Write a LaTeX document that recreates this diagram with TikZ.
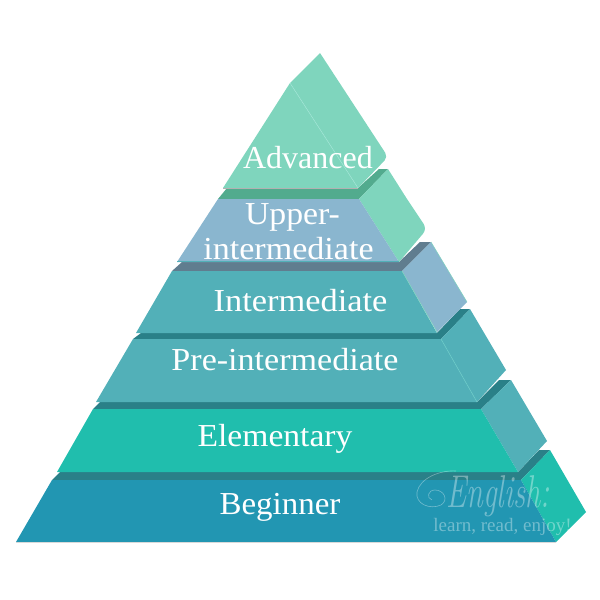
\documentclass[tikz,border=0pt]{standalone}
\usepackage{fontspec}
\setmainfont{Liberation Serif}
\newfontfamily\markfont{Latin Modern Roman}
\definecolor{cAdv}{HTML}{7FD5BD}
\definecolor{dAdv}{HTML}{52AB8E}
\definecolor{cUp}{HTML}{8AB6CF}
\definecolor{dUp}{HTML}{607D8F}
\definecolor{cInt}{HTML}{52B0B8}
\definecolor{dInt}{HTML}{2A8088}
\definecolor{cEle}{HTML}{20BEAD}
\definecolor{cBeg}{HTML}{2296B2}
\definecolor{seamA}{HTML}{A0E5D5}
\definecolor{seamB}{HTML}{6ACCC8}
\newcommand{\wide}[2]{\scalebox{#1}[1]{#2}}
\tikzset{
  label text/.style={text=white,font=\fontsize{32}{34}\selectfont,inner sep=0pt,anchor=base},
  seam/.style={line width=0.5pt},
  mark text/.style={text=white,opacity=0.36,inner sep=0pt,anchor=base},
  swirl/.style={draw=white,opacity=0.36,line width=0.6pt}
}
\begin{document}
\begin{tikzpicture}[x=1pt,y=-1pt]
\useasboundingbox (0,0) rectangle (600,600);
% dark shelves
\fill[dAdv] (227,188) -- (358,188) -- (379,169) -- (388,169) -- (359,199) -- (218,199) -- cycle;
\fill[dUp] (182,262) -- (399,262) -- (420,242) -- (431,242) -- (402,271) -- (172,271) -- cycle;
\fill[dInt] (141,333) -- (437,333) -- (460,309) -- (470,309) -- (441,339) -- (133,339) -- cycle;
\fill[dInt] (100,402) -- (477,402) -- (499,380) -- (511,380) -- (481,409) -- (93,409) -- cycle;
\fill[dInt] (60,472) -- (518,472) -- (539,450) -- (550,450) -- (521,480) -- (52,480) -- cycle;
% right faces
\fill[cAdv,rounded corners=5pt] (358,188) -- (388,157) -- (354,105) [sharp corners] -- (320,53) -- (290,83) -- cycle;
\fill[cAdv,rounded corners=6pt] (399,262) -- (427,229) -- (407,199) [sharp corners] -- (388,169) -- (359,199) -- cycle;
\fill[cUp] (431,242) -- (467,302) -- (437,332) -- (402,271) -- cycle;
\fill[cInt] (470,309) -- (506,370) -- (477,402) -- (441,339) -- cycle;
\fill[cInt] (511,380) -- (547,441) -- (518,472) -- (481,409) -- cycle;
\fill[cEle] (550,450) -- (586,512) -- (556,542) -- (521,480) -- cycle;
% front faces
\fill[cAdv] (290,83) -- (358,188) -- (223,188) -- cycle;
\fill[cUp] (218,199) -- (359,199) -- (399,262) -- (177,262) -- cycle;
\fill[cInt] (172,271) -- (402,271) -- (437,333) -- (136,333) -- cycle;
\fill[cInt] (133,339) -- (441,339) -- (477,402) -- (96,402) -- cycle;
\fill[cEle] (93,409) -- (481,409) -- (518,472) -- (57,472) -- cycle;
\fill[cBeg] (52,480) -- (521,480) -- (556,542) -- (16,542) -- cycle;
% seams
\draw[seam,seamA] (290,83) -- (358,188);
\draw[seam,cAdv] (402,271) -- (437,332);
\draw[seam,cAdv] (431,242) -- (467,302);
\draw[seam,seamB] (441,339) -- (477,402);
\draw[seam,cInt] (177,261.5) -- (399,261.5);
\draw[line width=0.6pt,black!30] (223,188) -- (358,188);
\draw[line width=0.6pt,black!15] (16,542) -- (556,542);
% labels
\node[label text] (adv) at (308,168) {Advanced};
\node[label text] (upa) at (292.5,224) {\wide{1.055}{Upper-}};
\node[label text] (upb) at (288.5,259) {\wide{1.065}{intermediate}};
\node[label text] (int) at (300.5,311) {\wide{1.075}{Intermediate}};
\node[label text] (pre) at (285,370) {\wide{1.065}{Pre-intermediate}};
\node[label text] (ele) at (275,446) {\wide{1.05}{Elementary}};
\node[label text] (beg) at (280,514) {\wide{1.03}{Beginner}};
% watermark
\path[swirl] (456,471) .. controls (440,470) and (420,478) .. (417,492) .. controls (415,504) and (430,510) .. (441,505) .. controls (449,500) and (444,490) .. (435,490) .. controls (428,490) and (426,498) .. (432,500);
\node[mark text,font=\markfont\itshape\fontsize{46}{48}\selectfont] (mka) at (498,507) {\wide{0.66}{English:}};
\node[mark text,font=\fontsize{19}{20}\selectfont] (mkb) at (502.5,531) {learn, read, enjoy!};
\end{tikzpicture}
\end{document}
